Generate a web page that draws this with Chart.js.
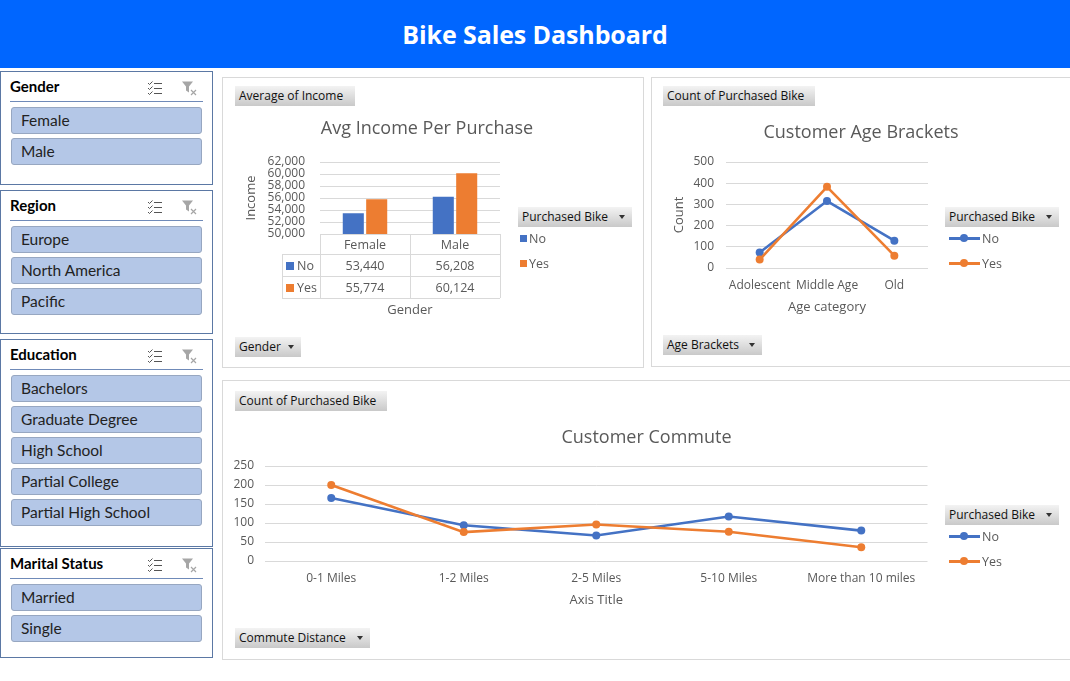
<!DOCTYPE html>
<html>
<head>
<meta charset="utf-8">
<title>Bike Sales Dashboard</title>
<script src="https://cdn.jsdelivr.net/npm/chart.js@4.4.1/dist/chart.umd.min.js"></script>
<style>
  body { margin: 0; width: 1070px; height: 681px; position: relative; overflow: hidden; background: #fff; font-family: 'Open Sans', sans-serif; }
  #header { position: absolute; left: 0; top: 0; width: 1070px; height: 68px; background: #0066ff; color: #fff;
            font: bold 25px 'Open Sans', sans-serif; letter-spacing: -0.1px; text-align: center; line-height: 68px; }
  .slicer { position: absolute; left: 0; width: 213px; border: 1px solid #5b78a4; box-sizing: border-box; background: #fff; }
  .slicer h3 { position: absolute; margin: 0; left: 9px; top: 5px; font: bold 15px Lato, sans-serif; color: #000; }
  .slicer .rule { position: absolute; left: 9px; width: 193px; top: 29px; border-top: 1px solid #6f8ab8; }
  .slicer .ico { position: absolute; top: 7px; }
  .item { position: absolute; left: 10px; width: 191px; height: 27px; background: #b4c7e7; border: 1px solid #97a7c1;
          border-radius: 3px; box-sizing: border-box; font: 15.5px Lato, sans-serif; color: #222; line-height: 25px; padding-left: 9px; }
  .panel { position: absolute; border: 1px solid #d9d9d9; box-sizing: border-box; }
  .btn { position: absolute; height: 20px; background: linear-gradient(#f3f3f3, #c9c9c9); font: 12px 'Open Sans', sans-serif;
         line-height: 20px; padding-left: 4px; box-sizing: border-box; color: #111; white-space: nowrap; }
  .btn .arr { position: absolute; right: 7px; top: 8px; width: 0; height: 0; border-left: 3.5px solid transparent;
              border-right: 3.5px solid transparent; border-top: 4px solid #333; }
  .leg { position: absolute; font: 12.5px 'Open Sans', sans-serif; color: #595959; line-height: 16px; }
  canvas { position: absolute; }
</style>
</head>
<body>
<div id="header">Bike Sales Dashboard</div>

<canvas id="incomeChart" width="408" height="288" style="left:223px;top:78px"></canvas>
<canvas id="ageChart" width="418" height="288" style="left:652px;top:78px"></canvas>
<canvas id="commuteChart" width="847" height="277" style="left:223px;top:381px"></canvas>

<script>
// slicer contents
const genderItems = ["Female", "Male"];
const regionItems = ["Europe", "North America", "Pacific"];
const educationItems = ["Bachelors", "Graduate Degree", "High School", "Partial College", "Partial High School"];
const maritalItems = ["Married", "Single"];

// avg income per purchase
const genderCats = ["Female", "Male"];
const incomeNo = [53440, 56208];
const incomeYes = [55774, 60124];

// customer age brackets
const ageCats = ["Adolescent", "Middle Age", "Old"];
const ageNo = [73, 316, 129];
const ageYes = [40, 383, 58];

// customer commute
const commuteCats = ["0-1 Miles", "1-2 Miles", "2-5 Miles", "5-10 Miles", "More than 10 miles"];
const commuteNo = [166, 94, 67, 117, 80];
const commuteYes = [200, 76, 96, 77, 36];

const BLUE = "#4472c4", ORANGE = "#ed7d31", GREY = "#595959", GRID = "#d9d9d9";

const listIcon = '<svg width="16" height="15" viewBox="0 0 16 15"><g stroke="#555" fill="none" stroke-width="1">' +
  '<path d="M1 2l1.5 1.5 3-3M1 7l1.5 1.5 3-3M1 12l1.5 1.5 3-3"/><path d="M7 2.5h8M7 7.5h8M7 12.5h8"/></g></svg>';
const clearIcon = '<svg width="16" height="16" viewBox="0 0 16 16"><path d="M1 1.5h11l-4 5v6l-3-2v-4z" fill="#a6a6a6"/>' +
  '<path d="M10 10l5 5M15 10l-5 5" stroke="#a6a6a6" stroke-width="1.2"/></svg>';

function addSlicer(title, items, top, height) {
  const box = document.createElement("div");
  box.className = "slicer";
  box.style.top = top + "px";
  box.style.height = height + "px";
  let html = "<h3>" + title + "</h3><div class='rule'></div>" +
    "<div class='ico' style='left:146px'>" + listIcon + "</div>" +
    "<div class='ico' style='left:180px'>" + clearIcon + "</div>";
  items.forEach((t, i) => {
    html += "<div class='item' style='top:" + (35 + i * 31) + "px'>" + t + "</div>";
  });
  box.innerHTML = html;
  document.body.appendChild(box);
}
addSlicer("Gender", genderItems, 71, 114);
addSlicer("Region", regionItems, 190, 144);
addSlicer("Education", educationItems, 339, 208);
addSlicer("Marital Status", maritalItems, 548, 110);

function addBox(cls, x, y, w, h, html) {
  const d = document.createElement("div");
  d.className = cls;
  d.style.cssText = "left:" + x + "px;top:" + y + "px;width:" + w + "px;" + (h ? "height:" + h + "px;" : "");
  d.innerHTML = html || "";
  document.body.appendChild(d);
  return d;
}
addBox("panel", 222, 77, 422, 291);
addBox("panel", 651, 77, 430, 290);
addBox("panel", 222, 380, 860, 280);

addBox("btn", 235, 86, 120, 0, "Average of Income");
addBox("btn", 235, 337, 66, 0, "Gender<span class='arr'></span>");
addBox("btn", 663, 86, 152, 0, "Count of Purchased Bike");
addBox("btn", 663, 335, 99, 0, "Age Brackets<span class='arr'></span>");
addBox("btn", 235, 391, 152, 0, "Count of Purchased Bike");
addBox("btn", 235, 628, 135, 0, "Commute Distance<span class='arr'></span>");

function addLegend(x, y, isLine) {
  addBox("btn", x, y, 114, 0, "Purchased Bike<span class='arr'></span>");
  [["No", BLUE], ["Yes", ORANGE]].forEach(([name, c], i) => {
    const cy = y + 31 + i * 25;
    if (isLine) {
      addBox("leg", x + 4, cy - 1.5, 31, 3, "").style.background = c;
      const dot = addBox("leg", x + 15, cy - 4, 8, 8, "");
      dot.style.background = c; dot.style.borderRadius = "50%";
      addBox("leg", x + 37, cy - 7, 40, 0, name);
    } else {
      addBox("leg", x + 2, cy - 3, 7, 7, "").style.background = c;
      addBox("leg", x + 11, cy - 7, 40, 0, name);
    }
  });
}
addLegend(518, 207, false);
addLegend(945, 207, true);
addLegend(945, 505, true);

Chart.defaults.font.family = "'Open Sans', sans-serif";
Chart.defaults.color = GREY;

// Excel style data table under the bar chart
const dataTable = {
  id: "dataTable",
  afterDraw(chart) {
    const { ctx, chartArea: a, scales: { x } } = chart;
    const n = chart.data.labels.length;
    const half = (a.right - a.left) / n / 2;
    const top = a.bottom, r1 = top + 20, r2 = r1 + 22, r3 = r2 + 22;
    const keyLeft = a.left - 38;
    ctx.save();
    ctx.strokeStyle = GRID;
    ctx.lineWidth = 1;
    ctx.beginPath();
    [r1, r2, r3].forEach(y => { ctx.moveTo(keyLeft, y + 0.5); ctx.lineTo(a.right, y + 0.5); });
    ctx.moveTo(keyLeft + 0.5, r1); ctx.lineTo(keyLeft + 0.5, r3);
    for (let i = 0; i <= n; i++) {
      const px = Math.round(i < n ? x.getPixelForTick(i) - half : x.getPixelForTick(n - 1) + half) + 0.5;
      ctx.moveTo(px, top); ctx.lineTo(px, r3);
    }
    ctx.stroke();
    ctx.font = "12.5px 'Open Sans'";
    ctx.fillStyle = GREY;
    ctx.textAlign = "center";
    ctx.textBaseline = "middle";
    chart.data.labels.forEach((lab, i) => ctx.fillText(lab, x.getPixelForTick(i), (top + r1) / 2 + 1));
    chart.data.datasets.forEach((ds, j) => {
      const cy = (j ? (r2 + r3) : (r1 + r2)) / 2 + 1;
      ds.data.forEach((v, i) => ctx.fillText(v.toLocaleString("en-US"), x.getPixelForTick(i), cy));
      ctx.fillStyle = ds.backgroundColor;
      ctx.fillRect(keyLeft + 4, cy - 4, 8, 8);
      ctx.fillStyle = GREY;
      ctx.textAlign = "left";
      ctx.fillText(ds.label, keyLeft + 15, cy);
      ctx.textAlign = "center";
    });
    ctx.font = "13px 'Open Sans'";
    ctx.fillText("Gender", (a.left + a.right) / 2, r3 + 12);
    ctx.restore();
  }
};

const padAxis = w => ({
  position: "right", display: true,
  ticks: { display: false }, grid: { display: false, drawTicks: false }, border: { display: false },
  afterFit(s) { s.width = w; }
});

new Chart(document.getElementById("incomeChart"), {
  type: "bar",
  data: {
    labels: genderCats,
    datasets: [
      { label: "No", data: incomeNo, backgroundColor: BLUE },
      { label: "Yes", data: incomeYes, backgroundColor: ORANGE }
    ]
  },
  options: {
    responsive: false,
    animation: false,
    layout: { padding: { top: 30, bottom: 132, left: 0, right: 0 } },
    datasets: { bar: { categoryPercentage: 0.52, barPercentage: 0.9 } },
    plugins: {
      legend: { display: false },
      tooltip: { enabled: false },
      title: { display: true, text: "Avg Income Per Purchase", color: GREY,
               font: { size: 18, weight: "normal" }, padding: { top: 10.2, bottom: 22.2 } }
    },
    scales: {
      x: { display: false },
      y: {
        min: 50000, max: 62000,
        ticks: { stepSize: 2000, padding: 15, autoSkip: false, font: { size: 12 } },
        grid: { color: GRID, drawTicks: false },
        border: { display: false },
        title: { display: true, text: "Income", font: { size: 13 }, padding: { top: 20, bottom: 0 } },
        afterFit(s) { s.width = 97; }
      },
      pad: padAxis(131)
    }
  },
  plugins: [dataTable]
});

function lineOptions(title, yMax, yStep, yTitle, xTitle, o) {
  return {
    responsive: false,
    animation: false,
    layout: { padding: { top: 30, bottom: o.bottom, left: 0, right: 0 } },
    plugins: {
      legend: { display: false },
      tooltip: { enabled: false },
      title: { display: true, text: title, color: GREY, font: { size: 18, weight: "normal" }, padding: o.titlePad }
    },
    scales: {
      x: {
        offset: true,
        grid: { display: false, drawTicks: false },
        border: { display: false },
        ticks: { padding: 10, font: { size: 12 }, maxRotation: 0, autoSkip: false },
        title: { display: true, text: xTitle, font: { size: 13 }, padding: { top: 0, bottom: 13 } },
        afterFit(s) { s.height = 60; }
      },
      y: {
        min: 0, max: yMax,
        ticks: { stepSize: yStep, padding: o.tickPad, autoSkip: false, font: { size: 12 } },
        grid: { color: GRID, drawTicks: false },
        border: { display: false },
        title: { display: !!yTitle, text: yTitle, font: { size: 13 }, padding: { top: 19, bottom: 0 } },
        afterFit(s) { s.width = o.yWidth; }
      },
      pad: padAxis(o.right)
    }
  };
}

function lineSets(no, yes) {
  const style = c => ({ borderColor: c, backgroundColor: c, pointBackgroundColor: c, borderWidth: 2.6,
                        pointRadius: 4, pointBorderWidth: 0, tension: 0 });
  return [
    Object.assign({ label: "No", data: no, order: 1 }, style(BLUE)),
    Object.assign({ label: "Yes", data: yes, order: 0 }, style(ORANGE))
  ];
}

new Chart(document.getElementById("ageChart"), {
  type: "line",
  data: { labels: ageCats, datasets: lineSets(ageNo, ageYes) },
  options: lineOptions("Customer Age Brackets", 500, 100, "Count", "Age category",
    { bottom: 38, titlePad: { top: 14.2, bottom: 18.2 }, tickPad: 12, yWidth: 74, right: 142 })
});

new Chart(document.getElementById("commuteChart"), {
  type: "line",
  data: { labels: commuteCats, datasets: lineSets(commuteNo, commuteYes) },
  options: lineOptions("Customer Commute", 250, 50, "", "Axis Title",
    { bottom: 37, titlePad: { top: 16.2, bottom: 17.2 }, tickPad: 11, yWidth: 42, right: 142.5 })
});
</script>
</body>
</html>
